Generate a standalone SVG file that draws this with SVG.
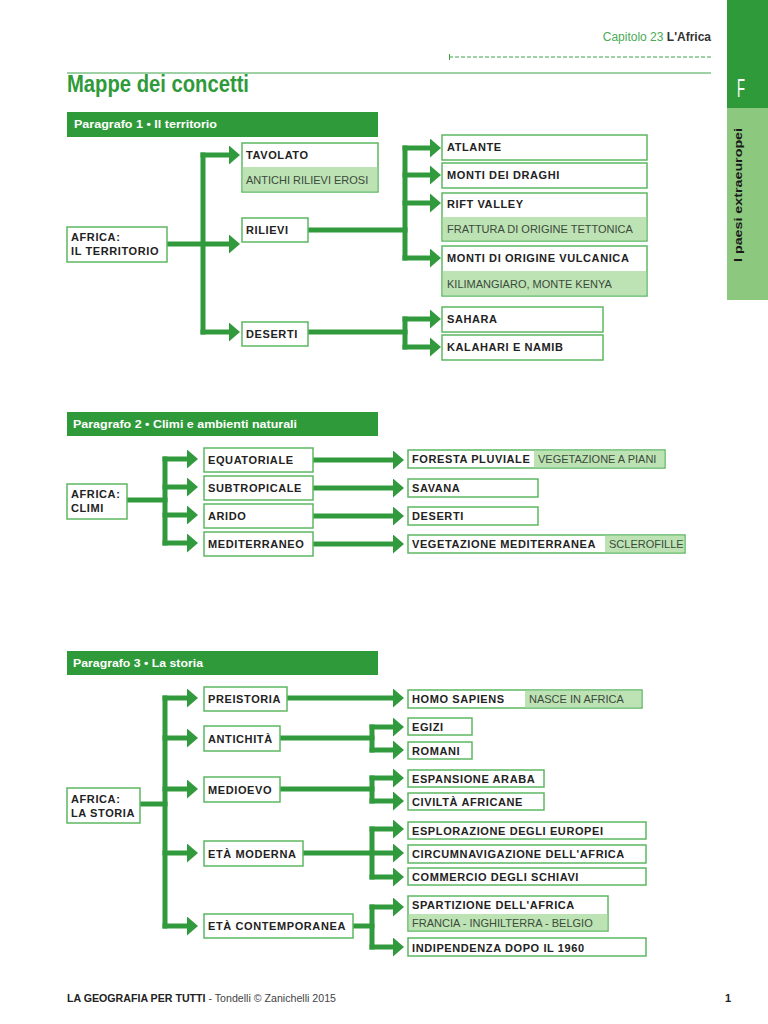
<svg xmlns="http://www.w3.org/2000/svg" width="768" height="1024" viewBox="0 0 768 1024">
<defs>
<style>
.bx{fill:#fff;stroke:#5cb860;stroke-width:1.5}
.gf{fill:#bde2b3;stroke:none}
.lb{font-family:"Liberation Sans",Arial,sans-serif;font-weight:bold;font-size:11px;letter-spacing:0.6px;fill:#222}
.sl{font-family:"Liberation Sans",Arial,sans-serif;font-size:11px;fill:#3b4a3b}
.ph{fill:#2f9a3a}
.pt{font-family:"Liberation Sans",Arial,sans-serif;font-weight:bold;font-size:11.5px;fill:#fff}
.cn path{fill:none;stroke:#319a3c;stroke-width:5}
.ar{marker-end:url(#ah)}
</style>
<marker id="ah" viewBox="0 0 11 19" refX="0" refY="9.5" markerWidth="11" markerHeight="19" markerUnits="userSpaceOnUse" orient="auto"><path d="M0,0 L11,9.5 L0,19 z" fill="#319a3c"/></marker>
</defs>
<rect width="768" height="1024" fill="#fff"/>

<g id="header">
<text x="711" y="41" text-anchor="end" font-family="Liberation Sans,Arial,sans-serif" font-size="12"><tspan fill="#4aab55">Capitolo 23 </tspan><tspan fill="#333" font-weight="bold">L'Africa</tspan></text>
<line x1="449" y1="57" x2="711" y2="57" stroke="#3da34a" stroke-width="1" stroke-dasharray="4,2"/>
<line x1="449.5" y1="54" x2="449.5" y2="60" stroke="#3da34a" stroke-width="1"/>
<line x1="67" y1="73" x2="711" y2="73" stroke="#3da34a" stroke-width="1"/>
<text x="67" y="92" font-family="Liberation Sans,Arial,sans-serif" font-weight="bold" font-size="23" fill="#2f9a3a" textLength="182" lengthAdjust="spacingAndGlyphs">Mappe dei concetti</text>
</g>

<g id="tab">
<rect x="727" y="0" width="41" height="108" fill="#2f9a3a"/>
<rect x="727" y="108" width="41" height="192" fill="#8cc97e"/>
<text x="737" y="97" font-family="Liberation Sans,Arial,sans-serif" font-size="25" fill="#fff" textLength="8" lengthAdjust="spacingAndGlyphs">F</text>
<text transform="translate(742,262) rotate(-90)" font-family="Liberation Sans,Arial,sans-serif" font-weight="bold" font-size="11" fill="#1a1a1a" textLength="134" lengthAdjust="spacingAndGlyphs">I paesi extraeuropei</text>
</g>

<g id="par1"><rect class="ph" x="67" y="112" width="311" height="25"/><text class="pt" x="74" y="128" textLength="143" lengthAdjust="spacingAndGlyphs">Paragrafo 1 • Il territorio</text></g>
<g id="par2"><rect class="ph" x="67" y="412" width="311" height="24"/><text class="pt" x="73" y="428" textLength="224" lengthAdjust="spacingAndGlyphs">Paragrafo 2 • Climi e ambienti naturali</text></g>
<g id="par3"><rect class="ph" x="67" y="651" width="311" height="24"/><text class="pt" x="73" y="667" textLength="130" lengthAdjust="spacingAndGlyphs">Paragrafo 3 • La storia</text></g>

<g class="cn" id="connectors">
<path class="ar" d="M167,244 H229"/>
<path d="M203,152.5 V334.5"/>
<path class="ar" d="M200.5,155 H229"/>
<path class="ar" d="M200.5,332 H229"/>
<path d="M308,230 H407.5"/>
<path d="M405,145.5 V260.5"/>
<path class="ar" d="M402.5,148 H430"/>
<path class="ar" d="M402.5,175 H430"/>
<path class="ar" d="M402.5,203 H430"/>
<path class="ar" d="M402.5,258 H430"/>
<path d="M308,332 H407.5"/>
<path d="M405,316.5 V349.5"/>
<path class="ar" d="M402.5,319 H430"/>
<path class="ar" d="M402.5,347 H430"/>

<path d="M127,500 H167.5"/>
<path d="M165,456.5 V545.5"/>
<path class="ar" d="M162.5,459 H187"/>
<path class="ar" d="M162.5,487 H187"/>
<path class="ar" d="M162.5,515 H187"/>
<path class="ar" d="M162.5,543 H187"/>
<path class="ar" d="M313,460 H393"/>
<path class="ar" d="M313,488 H393"/>
<path class="ar" d="M313,516 H393"/>
<path class="ar" d="M313,544 H393"/>

<path d="M140,804 H167.5"/>
<path d="M165,695.5 V928.5"/>
<path class="ar" d="M162.5,698 H187"/>
<path class="ar" d="M162.5,738 H187"/>
<path class="ar" d="M162.5,789 H187"/>
<path class="ar" d="M162.5,853 H187"/>
<path class="ar" d="M162.5,926 H187"/>
<path class="ar" d="M287,698 H393"/>
<path d="M280,738 H374.5"/>
<path d="M372,724.5 V752.5"/>
<path class="ar" d="M369.5,727 H393"/>
<path class="ar" d="M369.5,750 H393"/>
<path d="M280,789 H374.5"/>
<path d="M372,775.5 V803.5"/>
<path class="ar" d="M369.5,778 H393"/>
<path class="ar" d="M369.5,801 H393"/>
<path d="M303,853 H374.5"/>
<path d="M372,826.5 V879.5"/>
<path class="ar" d="M369.5,829 H393"/>
<path class="ar" d="M369.5,853 H393"/>
<path class="ar" d="M369.5,877 H393"/>
<path d="M353,926 H374.5"/>
<path d="M372,904.5 V949.5"/>
<path class="ar" d="M369.5,907 H393"/>
<path class="ar" d="M369.5,947 H393"/>
</g>

<g id="n-africa-territorio"><rect class="bx" x="67" y="227" width="100" height="35"/><text class="lb" x="71" y="241">AFRICA:</text><text class="lb" x="71" y="255">IL TERRITORIO</text></g>
<g id="n-tavolato"><rect class="bx" x="242" y="143" width="136" height="49"/><rect class="gf" x="242.75" y="167" width="134.5" height="24.25"/><text class="lb" x="246" y="159">TAVOLATO</text><text class="sl" x="246" y="184">ANTICHI RILIEVI EROSI</text></g>
<g id="n-rilievi"><rect class="bx" x="242" y="218" width="66" height="24"/><text class="lb" x="246" y="234">RILIEVI</text></g>
<g id="n-deserti1"><rect class="bx" x="242" y="322" width="66" height="24"/><text class="lb" x="246" y="338">DESERTI</text></g>
<g id="n-atlante"><rect class="bx" x="442" y="135" width="205" height="25"/><text class="lb" x="447" y="151">ATLANTE</text></g>
<g id="n-draghi"><rect class="bx" x="442" y="163" width="205" height="25"/><text class="lb" x="447" y="179">MONTI DEI DRAGHI</text></g>
<g id="n-rift"><rect class="bx" x="442" y="193" width="205" height="48"/><rect class="gf" x="442.75" y="217" width="203.5" height="23.25"/><text class="lb" x="447" y="208">RIFT VALLEY</text><text class="sl" x="447" y="233">FRATTURA DI ORIGINE TETTONICA</text></g>
<g id="n-vulcanica"><rect class="bx" x="442" y="246" width="205" height="50"/><rect class="gf" x="442.75" y="271" width="203.5" height="24.25"/><text class="lb" x="447" y="262">MONTI DI ORIGINE VULCANICA</text><text class="sl" x="447" y="288">KILIMANGIARO, MONTE KENYA</text></g>
<g id="n-sahara"><rect class="bx" x="442" y="307" width="161" height="25"/><text class="lb" x="447" y="323">SAHARA</text></g>
<g id="n-kalahari"><rect class="bx" x="442" y="335" width="161" height="25"/><text class="lb" x="447" y="351">KALAHARI E NAMIB</text></g>

<g id="n-africa-climi"><rect class="bx" x="67" y="484" width="60" height="35"/><text class="lb" x="71" y="498">AFRICA:</text><text class="lb" x="71" y="512">CLIMI</text></g>
<g id="n-equatoriale"><rect class="bx" x="204" y="448" width="109" height="24"/><text class="lb" x="208" y="464">EQUATORIALE</text></g>
<g id="n-subtropicale"><rect class="bx" x="204" y="476" width="109" height="24"/><text class="lb" x="208" y="492">SUBTROPICALE</text></g>
<g id="n-arido"><rect class="bx" x="204" y="504" width="109" height="24"/><text class="lb" x="208" y="520">ARIDO</text></g>
<g id="n-mediterraneo"><rect class="bx" x="204" y="532" width="109" height="24"/><text class="lb" x="208" y="548">MEDITERRANEO</text></g>
<g id="n-foresta"><rect class="bx" x="408" y="450" width="257" height="18"/><rect class="gf" x="534" y="450.75" width="130.25" height="16.5"/><text class="lb" x="412" y="463">FORESTA PLUVIALE</text><text class="sl" x="538" y="463">VEGETAZIONE A PIANI</text></g>
<g id="n-savana"><rect class="bx" x="408" y="479" width="130" height="18"/><text class="lb" x="412" y="492">SAVANA</text></g>
<g id="n-deserti2"><rect class="bx" x="408" y="507" width="130" height="18"/><text class="lb" x="412" y="520">DESERTI</text></g>
<g id="n-vegmed"><rect class="bx" x="408" y="535" width="277" height="18"/><rect class="gf" x="605" y="535.75" width="79.25" height="16.5"/><text class="lb" x="412" y="548">VEGETAZIONE MEDITERRANEA</text><text class="sl" x="609" y="548">SCLEROFILLE</text></g>

<g id="n-africa-storia"><rect class="bx" x="67" y="788" width="73" height="35"/><text class="lb" x="71" y="803">AFRICA:</text><text class="lb" x="71" y="817">LA STORIA</text></g>
<g id="n-preistoria"><rect class="bx" x="204" y="687" width="83" height="24"/><text class="lb" x="208" y="703">PREISTORIA</text></g>
<g id="n-antichita"><rect class="bx" x="204" y="726" width="76" height="25"/><text class="lb" x="208" y="743">ANTICHITÀ</text></g>
<g id="n-medioevo"><rect class="bx" x="204" y="777" width="76" height="25"/><text class="lb" x="208" y="794">MEDIOEVO</text></g>
<g id="n-moderna"><rect class="bx" x="204" y="841" width="99" height="25"/><text class="lb" x="208" y="858">ETÀ MODERNA</text></g>
<g id="n-contemporanea"><rect class="bx" x="204" y="914" width="149" height="24"/><text class="lb" x="208" y="930">ETÀ CONTEMPORANEA</text></g>
<g id="n-homo"><rect class="bx" x="408" y="690" width="234" height="18"/><rect class="gf" x="525" y="690.75" width="116.25" height="16.5"/><text class="lb" x="412" y="703">HOMO SAPIENS</text><text class="sl" x="529" y="703">NASCE IN AFRICA</text></g>
<g id="n-egizi"><rect class="bx" x="408" y="718" width="64" height="17"/><text class="lb" x="412" y="731">EGIZI</text></g>
<g id="n-romani"><rect class="bx" x="408" y="742" width="64" height="17"/><text class="lb" x="412" y="755">ROMANI</text></g>
<g id="n-araba"><rect class="bx" x="408" y="770" width="136" height="17"/><text class="lb" x="412" y="783">ESPANSIONE ARABA</text></g>
<g id="n-civilta"><rect class="bx" x="408" y="793" width="136" height="17"/><text class="lb" x="412" y="806">CIVILTÀ AFRICANE</text></g>
<g id="n-esplorazione"><rect class="bx" x="408" y="822" width="238" height="17"/><text class="lb" x="412" y="835">ESPLORAZIONE DEGLI EUROPEI</text></g>
<g id="n-circum"><rect class="bx" x="408" y="845" width="238" height="18"/><text class="lb" x="412" y="858">CIRCUMNAVIGAZIONE DELL'AFRICA</text></g>
<g id="n-schiavi"><rect class="bx" x="408" y="868" width="238" height="17"/><text class="lb" x="412" y="881">COMMERCIO DEGLI SCHIAVI</text></g>
<g id="n-spartizione"><rect class="bx" x="408" y="896" width="200" height="35"/><rect class="gf" x="408.75" y="914" width="198.5" height="16.25"/><text class="lb" x="412" y="909">SPARTIZIONE DELL'AFRICA</text><text class="sl" x="412" y="927">FRANCIA - INGHILTERRA - BELGIO</text></g>
<g id="n-indipendenza"><rect class="bx" x="408" y="938" width="238" height="18"/><text class="lb" x="412" y="952">INDIPENDENZA DOPO IL 1960</text></g>

<g id="footer">
<text x="67" y="1002" font-family="Liberation Sans,Arial,sans-serif" font-size="11" fill="#222" textLength="269" lengthAdjust="spacingAndGlyphs"><tspan font-weight="bold">LA GEOGRAFIA PER TUTTI</tspan><tspan fill="#444"> - Tondelli © Zanichelli 2015</tspan></text>
<text x="731" y="1002" text-anchor="end" font-family="Liberation Sans,Arial,sans-serif" font-size="11" font-weight="bold" fill="#222">1</text>
</g>
</svg>
